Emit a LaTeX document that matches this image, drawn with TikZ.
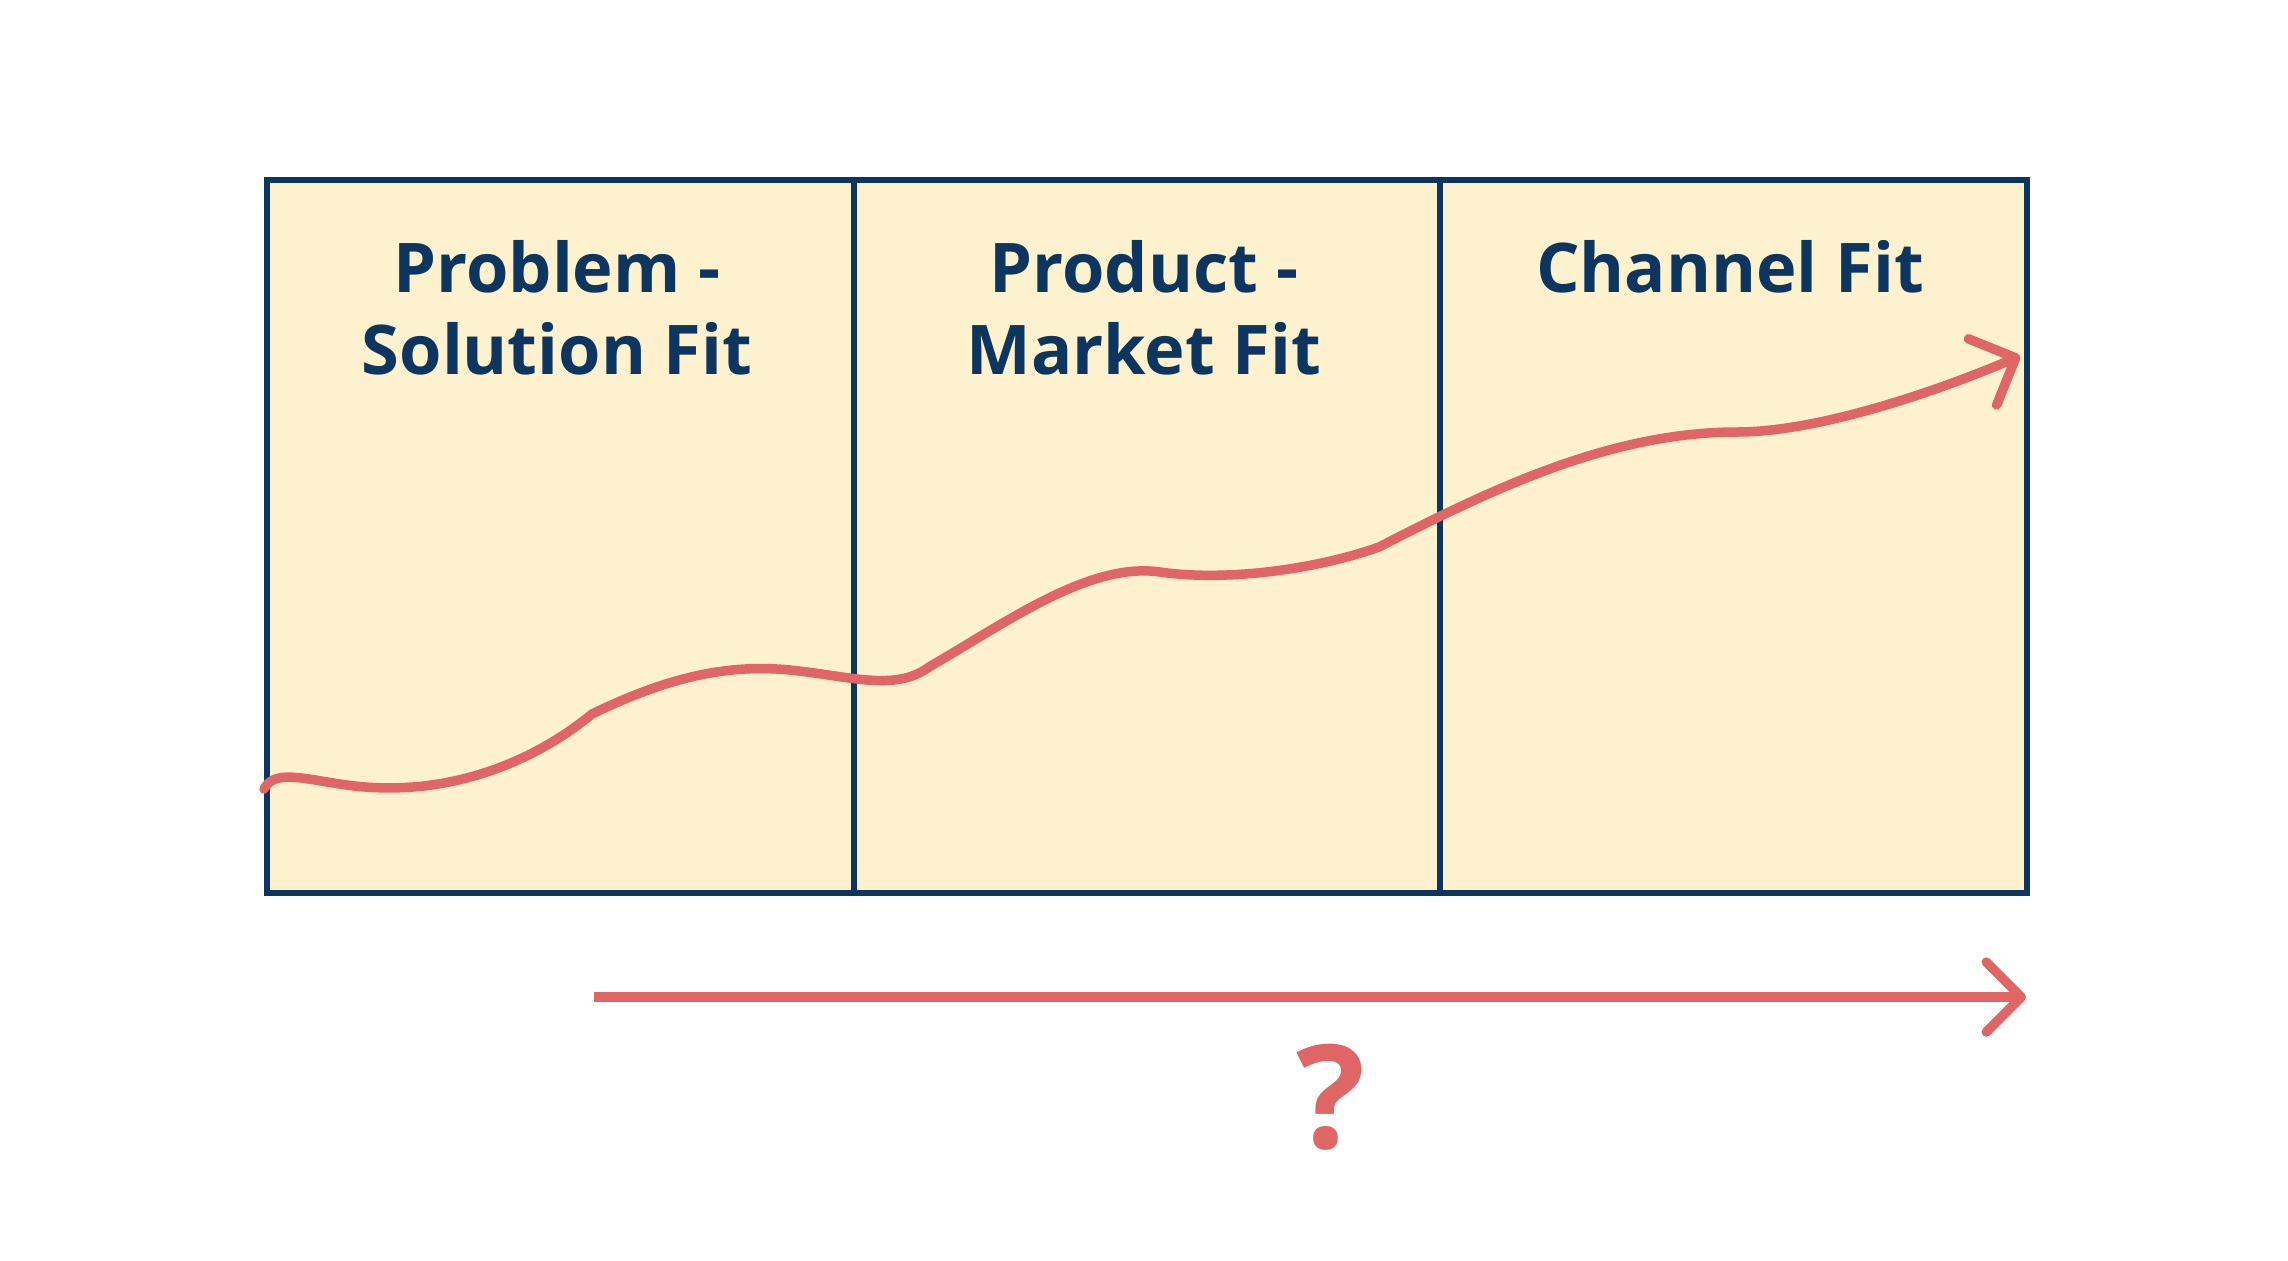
\documentclass[tikz,border=0pt]{standalone}
\usepackage{fontspec}
\setmainfont{Open Sans}
\usetikzlibrary{arrows.meta,positioning}
\definecolor{fitnavy}{RGB}{12,54,96}
\definecolor{fitcream}{RGB}{254,241,206}
\definecolor{fitred}{RGB}{224,102,102}
\tikzset{
  stage/.style      = {rectangle, draw=fitnavy, fill=fitcream, line width=0.6mm,
                       minimum width=58.7mm, minimum height=71.3mm,
                       inner sep=0pt, anchor=north west},
  stagetitle/.style = {align=center, text=fitnavy, inner sep=0pt, anchor=base,
                       font=\bfseries\fontsize{19.5}{23.3}\selectfont},
  growth/.style     = {draw=fitred, line width=0.95mm, line cap=round, line join=round,
                       -{Straight Barb[length=3.6mm, width=7.2mm, round]}},
  timeline/.style   = {draw=fitred, line width=0.95mm,
                       -{Straight Barb[length=3.5mm, width=7mm, round]}},
}

\begin{document}
\begin{tikzpicture}[x=0.1mm, y=-0.1mm]
\useasboundingbox (0,0) rectangle (2288,1260);

% three stages
\node[stage] (col1) at (264,177) {};
\node[stage] (col2) at (851,177) {};
\node[stage] (col3) at (1437,177) {};

\node[stagetitle] (t1) at (557,374) {Problem -\\Solution Fit};
\node[stagetitle] (t2) at (1144,374) {Product -\\Market Fit};
\node[stagetitle] (t3) at (1730,292) {Channel Fit};

% growth curve across the stages
\draw[growth] (264,789) .. controls (274,770) and (300,778) .. (340,784)
  .. controls (440,800) and (530,765) .. (592,714)
  .. controls (670,676) and (730,664) .. (790,670)
  .. controls (850,676) and (895,692) .. (929,667)
  .. controls (1010,620) and (1090,562) .. (1160,572)
  .. controls (1230,582) and (1320,568) .. (1379,547)
  .. controls (1490,490) and (1610,432) .. (1737,432)
  .. controls (1820,432) and (1940,390) .. (2020,356);

% time axis
\coordinate (tstart) at (594,997);
\coordinate (tend) at (2026,997);
\draw[timeline] (tstart) -- (tend);

\node[text=fitred, anchor=base, inner sep=0pt,
      font=\bfseries\fontsize{41}{45}\selectfont] (ask) at (1331,1148) {?};

\end{tikzpicture}
\end{document}
